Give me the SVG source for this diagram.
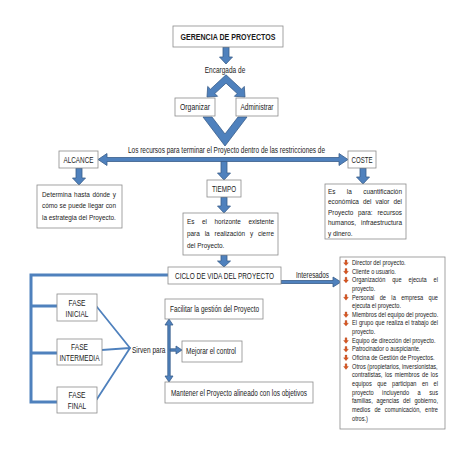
<svg xmlns="http://www.w3.org/2000/svg" width="453" height="453" viewBox="0 0 453 453">
<defs>
<style>
.bx{fill:#fff;stroke:#8c8c8c;stroke-width:0.8}
.ar{fill:#4f81bd;stroke:#385d8a;stroke-width:0.8}
.ln{fill:none;stroke:#4f81bd;stroke-linecap:square}
.t{font-family:"Liberation Sans",Arial,sans-serif;fill:#1a1a1a}
.l{font-size:8.2px}
.p{font-size:7.8px}
.s{font-size:6.9px}
.m{text-anchor:middle}
.b{font-weight:bold}
.bul{fill:#d9541e;stroke:#a0380e;stroke-width:0.3}
</style>
<polygon id="bullet" class="bul" points="-0.9,-3 0.9,-3 0.9,-0.3 2.4,-0.3 0,2.6 -2.4,-0.3 -0.9,-0.3"/>
</defs>
<rect width="453" height="453" fill="#fff"/>

<g id="connectors">
<polygon class="ar" points="223,47 229,47 229,57 232.5,57 226,64 219.5,57 223,57"/>
<polygon class="ar" points="226,74.8 210.5,89.2 207.7,86.4 207,97 217.6,96.3 214.8,93.5 226,83.2 237.2,93.5 234.4,96.3 245,97 244.3,86.4 241.5,89.2"/>
<polygon class="ar" points="203,117 212,117 225,134 238,117 247,117 225,146"/>
<polygon class="ar" points="98,159.5 107,153.5 107,157.5 339,157.5 339,153.5 348,159.5 339,165.5 339,161.5 107,161.5 107,165.5"/>
<polygon class="ar" points="221,161.5 227,161.5 227,173 230.5,173 224,180 217.5,173 221,173"/>
<polygon class="ar" points="76,168 82,168 82,178 85.5,178 79,185 72.5,178 76,178"/>
<polygon class="ar" points="360,168 366,168 366,177 369.5,177 363,184 356.5,177 360,177"/>
<polygon class="ar" points="221,197 227,197 227,206 230.5,206 224,213 217.5,206 221,206"/>
<polygon class="ar" points="221,255 227,255 227,261 230.5,261 224,267 217.5,261 221,261"/>
<polygon class="ar" points="281,280.5 333,280.5 333,277 341,282 333,287 333,283.5 281,283.5"/>
<path class="ln" stroke-width="3" d="M168,275 H31 V402 H57 M31,306 H57 M31,353 H57"/>
<path class="ln" stroke-width="1.8" d="M97,307 L130,348 M102,350 L130,348 M97,399 L130,348"/>
<polygon class="ar" points="169,319 173,325 170.2,325 170.2,376 173,376 169,382 165,376 167.8,376 167.8,325 165,325"/>
<polygon class="ar" points="170.2,348.8 176,348.8 176,346 182,350 176,354 176,351.2 170.2,351.2"/>
</g>

<g id="gerencia">
<rect class="bx" x="173" y="26" width="110" height="21"/>
<text class="t l b m" x="228" y="40" textLength="95" lengthAdjust="spacingAndGlyphs">GERENCIA DE PROYECTOS</text>
</g>
<g id="encargada">
<text class="t l m" x="225" y="72.5" textLength="40.5" lengthAdjust="spacingAndGlyphs">Encargada de</text>
</g>
<g id="organizar">
<rect class="bx" x="175" y="98" width="40" height="18"/>
<text class="t l m" x="195" y="110" textLength="30" lengthAdjust="spacingAndGlyphs">Organizar</text>
</g>
<g id="administrar">
<rect class="bx" x="236" y="98" width="42" height="18"/>
<text class="t l m" x="257" y="110" textLength="33" lengthAdjust="spacingAndGlyphs">Administrar</text>
</g>
<g id="recursos">
<text class="t l" x="128" y="153" textLength="197" lengthAdjust="spacingAndGlyphs">Los recursos para terminar el Proyecto dentro de las restricciones de</text>
</g>
<g id="alcance">
<rect class="bx" x="59" y="151" width="39" height="17"/>
<text class="t l m" x="78.5" y="163" textLength="30" lengthAdjust="spacingAndGlyphs">ALCANCE</text>
</g>
<g id="coste">
<rect class="bx" x="348" y="151" width="28" height="17"/>
<text class="t l m" x="362" y="163" textLength="21" lengthAdjust="spacingAndGlyphs">COSTE</text>
</g>
<g id="tiempo">
<rect class="bx" x="207" y="180" width="34" height="17"/>
<text class="t l m" x="224" y="192" textLength="24" lengthAdjust="spacingAndGlyphs">TIEMPO</text>
</g>
<g id="determina">
<rect class="bx" x="37" y="185" width="85" height="43"/>
<g transform="translate(42,0) scale(0.82,1)">
<text class="t p" y="197"><tspan x="0">Determina</tspan> <tspan x="39.17">hasta</tspan> <tspan x="61.45">dónde</tspan> <tspan x="86.33">y</tspan></text>
<text class="t p" y="208.5"><tspan x="0">cómo</tspan> <tspan x="21.47">se</tspan> <tspan x="32.11">puede</tspan> <tspan x="56.19">llegar</tspan> <tspan x="77.66">con</tspan></text>
<text class="t p" x="0" y="220">la estrategia del Proyecto.</text>
</g>
</g>
<g id="horizonte">
<rect class="bx" x="183" y="213" width="95" height="42"/>
<g transform="translate(187,0) scale(0.82,1)">
<text class="t p" y="224.5"><tspan x="0">Es</tspan> <tspan x="18.31">el</tspan> <tspan x="33.59">horizonte</tspan> <tspan x="74.88">existente</tspan></text>
<text class="t p" y="236.5"><tspan x="0">para</tspan> <tspan x="21.55">la</tspan> <tspan x="33.55">realización</tspan> <tspan x="76.77">y</tspan> <tspan x="86.6">cierre</tspan></text>
<text class="t p" x="0" y="248.5">del Proyecto.</text>
</g>
</g>
<g id="cuantificacion">
<rect class="bx" x="325" y="184" width="81" height="55"/>
<g transform="translate(328,0) scale(0.82,1)">
<text class="t p" y="194"><tspan x="0">Es</tspan> <tspan x="23">la</tspan> <tspan x="42.97">cuantificación</tspan></text>
<text class="t p" y="204.5"><tspan x="0">económica</tspan> <tspan x="42.65">del</tspan> <tspan x="58">valor</tspan> <tspan x="79.84">del</tspan></text>
<text class="t p" y="215"><tspan x="0">Proyecto</tspan> <tspan x="36.67">para:</tspan> <tspan x="60.34">recursos</tspan></text>
<text class="t p" y="225.5"><tspan x="0">humanos,</tspan> <tspan x="40.39">infraestructura</tspan></text>
<text class="t p" x="0" y="236">y dinero.</text>
</g>
</g>
<g id="ciclo">
<rect class="bx" x="168" y="267" width="113" height="17"/>
<text class="t l m" x="224.5" y="279" textLength="99" lengthAdjust="spacingAndGlyphs">CICLO DE VIDA DEL PROYECTO</text>
</g>
<g id="interesados-label">
<text class="t l" x="296" y="277.5" textLength="33" lengthAdjust="spacingAndGlyphs">Interesados</text>
</g>
<g id="interesados">
<rect class="bx" x="340" y="257" width="105" height="172"/>
<use href="#bullet" x="346" y="263"/>
<use href="#bullet" x="346" y="271.6"/>
<use href="#bullet" x="346" y="280.3"/>
<use href="#bullet" x="346" y="297.6"/>
<use href="#bullet" x="346" y="314.9"/>
<use href="#bullet" x="346" y="323.5"/>
<use href="#bullet" x="346" y="340.8"/>
<use href="#bullet" x="346" y="349.5"/>
<use href="#bullet" x="346" y="358.1"/>
<use href="#bullet" x="346" y="366.8"/>
<g transform="translate(352,0) scale(0.82,1)">
<text class="t s" x="0" y="265">Director del proyecto.</text>
<text class="t s" x="0" y="273.6">Cliente o usuario.</text>
<text class="t s" y="282.3"><tspan x="0">Organización</tspan> <tspan x="49.02">que</tspan> <tspan x="68.9">ejecuta</tspan> <tspan x="99.52">el</tspan></text>
<text class="t s" x="0" y="290.9">proyecto.</text>
<text class="t s" y="299.6"><tspan x="0">Personal</tspan> <tspan x="33.79">de</tspan> <tspan x="48.03">la</tspan> <tspan x="59.97">empresa</tspan> <tspan x="93.37">que</tspan></text>
<text class="t s" x="0" y="308.2">ejecuta el proyecto.</text>
<text class="t s" x="0" y="316.9">Miembros del equipo del proyecto.</text>
<text class="t s" y="325.5"><tspan x="0">El</tspan> <tspan x="8.4">grupo</tspan> <tspan x="28.31">que</tspan> <tspan x="42.09">realiza</tspan> <tspan x="64.68">el</tspan> <tspan x="72.32">trabajo</tspan> <tspan x="95.68">del</tspan></text>
<text class="t s" x="0" y="334.2">proyecto.</text>
<text class="t s" x="0" y="342.8">Equipo de dirección del proyecto.</text>
<text class="t s" x="0" y="351.5">Patrocinador o auspiciante.</text>
<text class="t s" x="0" y="360.1">Oficina de Gestión de Proyectos.</text>
<text class="t s" x="0" y="368.8">Otros (propietarios, inversionistas,</text>
<text class="t s" y="377.4"><tspan x="0">contratistas,</tspan> <tspan x="40.22">los</tspan> <tspan x="52.06">miembros</tspan> <tspan x="85.36">de</tspan> <tspan x="96.05">los</tspan></text>
<text class="t s" y="386.1"><tspan x="0">equipos</tspan> <tspan x="30.73">que</tspan> <tspan x="48.8">participan</tspan> <tspan x="85.28">en</tspan> <tspan x="99.51">el</tspan></text>
<text class="t s" y="394.7"><tspan x="0">proyecto</tspan> <tspan x="36.75">incluyendo</tspan> <tspan x="80.02">a</tspan> <tspan x="94.15">sus</tspan></text>
<text class="t s" y="403.4"><tspan x="0">familias,</tspan> <tspan x="29.97">agencias</tspan> <tspan x="62.25">del</tspan> <tspan x="76.12">gobierno,</tspan></text>
<text class="t s" y="412"><tspan x="0">medios</tspan> <tspan x="27.29">de</tspan> <tspan x="40.01">comunicación,</tspan> <tspan x="89.16">entre</tspan></text>
<text class="t s" x="0" y="420.7">otros.)</text>
</g>
</g>
<g id="fase-inicial">
<rect class="bx" x="57" y="294" width="40" height="27"/>
<text class="t l m" x="77" y="305.5" textLength="17" lengthAdjust="spacingAndGlyphs">FASE</text>
<text class="t l m" x="77" y="316.5" textLength="22.8" lengthAdjust="spacingAndGlyphs">INICIAL</text>
</g>
<g id="fase-intermedia">
<rect class="bx" x="57" y="339" width="45" height="26"/>
<text class="t l m" x="79.5" y="350" textLength="17" lengthAdjust="spacingAndGlyphs">FASE</text>
<text class="t l m" x="79.5" y="361" textLength="40" lengthAdjust="spacingAndGlyphs">INTERMEDIA</text>
</g>
<g id="fase-final">
<rect class="bx" x="57" y="387" width="40" height="26"/>
<text class="t l m" x="77" y="398" textLength="17" lengthAdjust="spacingAndGlyphs">FASE</text>
<text class="t l m" x="77" y="409" textLength="18.4" lengthAdjust="spacingAndGlyphs">FINAL</text>
</g>
<g id="sirven">
<text class="t l" x="132" y="352.5" textLength="33.5" lengthAdjust="spacingAndGlyphs">Sirven para</text>
</g>
<g id="facilitar">
<rect class="bx" x="165" y="299" width="98" height="20"/>
<text class="t l" x="170" y="312" textLength="89" lengthAdjust="spacingAndGlyphs">Facilitar la gestión del Proyecto</text>
</g>
<g id="mejorar">
<rect class="bx" x="182" y="341" width="60" height="21"/>
<text class="t l" x="186" y="354" textLength="50" lengthAdjust="spacingAndGlyphs">Mejorar el control</text>
</g>
<g id="mantener">
<rect class="bx" x="165" y="382" width="148" height="21"/>
<text class="t l" x="171" y="395.5" textLength="136" lengthAdjust="spacingAndGlyphs">Mantener el Proyecto alineado con los objetivos</text>
</g>
</svg>
